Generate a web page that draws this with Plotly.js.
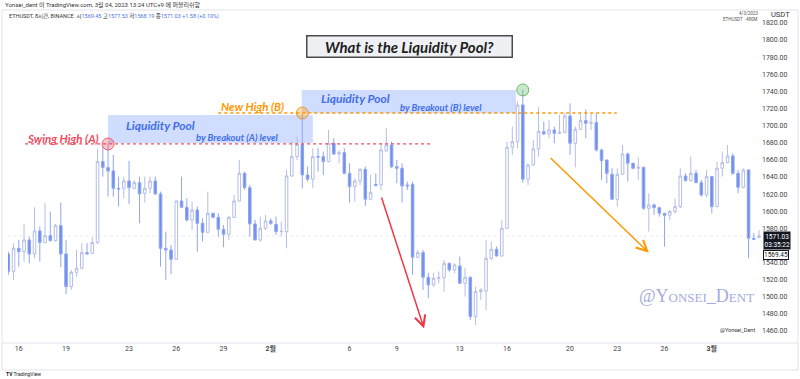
<!DOCTYPE html>
<html><head><meta charset="utf-8">
<script src="https://cdn.plot.ly/plotly-3.0.1.min.js"></script>
<style>html,body{margin:0;padding:0;background:#fff}#chart{width:800px;height:379px}</style>
</head><body><div id="chart"></div>
<script>
// ETHUSDT 8h candles (Jan 15 08:00 UTC onward)
const openP = [1550.0,1529.4,1556.6,1552.7,1566.4,1550.0,1576.9,1563.3,1571.4,1565.6,
1583.1,1550.0,1511.9,1528.6,1533.3,1551.6,1550.8,1563.3,1657.9,1650.9,
1647.0,1626.7,1626.7,1635.3,1626.7,1633.3,1620.9,1626.7,1635.3,1620.1,
1556.6,1554.7,1543.8,1611.9,1604.5,1589.7,1601.4,1585.8,1575.3,1597.5,
1592.8,1578.8,1573.0,1592.8,1611.9,1644.2,1627.5,1585.1,1566.4,1580.0,
1588.6,1584.6,1576.1,1576.1,1641.1,1663.7,1678.1,1642.3,1637.2,1663.7,
1663.7,1657.9,1679.3,1666.8,1668.4,1644.2,1628.7,1635.3,1648.9,1613.9,
1631.4,1630.6,1670.3,1677.3,1652.0,1650.1,1630.6,1631.4,1546.1,1551.6,
1522.8,1513.8,1521.6,1522.4,1539.1,1531.3,1536.0,1515.7,1522.8,1476.8,
1506.0,1506.8,1544.9,1555.5,1547.7,1580.0,1674.6,1681.2,1724.1,1637.3,
1654.0,1672.7,1692.9,1690.2,1694.9,1691.0,1692.1,1711.2,1679.3,1695.6,
1705.8,1702.7,1703.5,1671.5,1659.8,1643.1,1613.9,1643.1,1666.8,1655.9,
1650.1,1651.3,1603.4,1607.3,1604.1,1597.5,1595.2,1599.5,1605.3,1641.1,
1635.7,1644.2,1633.3,1618.9,1640.4,1605.3,1650.1,1656.7,1664.5,1644.2,
1627.9,1648.1,1568.3,1569.45];
const highP = [1552.7,1562.5,1566.4,1584.7,1570.3,1604.5,1582.0,1609.2,1599.5,1585.1,
1610.0,1566.4,1531.3,1554.7,1562.5,1562.5,1569.5,1672.0,1675.0,1680.0,
1665.7,1640.4,1640.4,1658.7,1636.4,1640.4,1640.4,1640.4,1640.4,1622.8,
1576.1,1560.5,1612.5,1640.4,1615.0,1611.2,1605.3,1591.7,1622.8,1598.0,
1597.5,1583.9,1594.4,1618.9,1659.8,1646.2,1630.6,1589.7,1593.6,1595.6,
1591.7,1593.6,1587.8,1648.1,1681.2,1687.1,1714.3,1652.0,1673.5,1673.5,
1669.6,1694.9,1685.1,1671.5,1673.5,1655.9,1638.4,1650.1,1652.0,1642.3,
1644.2,1679.3,1696.8,1681.2,1659.8,1655.9,1634.5,1634.5,1554.7,1554.7,
1528.2,1528.2,1529.4,1543.0,1539.9,1539.1,1546.9,1533.3,1523.5,1511.9,
1509.9,1566.4,1564.4,1558.6,1589.7,1681.2,1698.8,1728.0,1741.6,1655.9,
1683.2,1721.4,1704.6,1706.5,1698.8,1712.4,1714.3,1726.0,1698.8,1714.3,
1719.0,1714.3,1714.3,1673.0,1660.0,1650.1,1650.1,1677.3,1668.4,1656.7,
1662.9,1652.0,1620.9,1609.0,1605.3,1598.0,1601.4,1615.0,1650.1,1644.2,
1663.7,1648.1,1636.4,1648.1,1641.0,1657.9,1669.6,1677.3,1667.6,1648.1,
1650.1,1648.9,1574.2,1577.53];
const lowP = [1525.5,1519.7,1535.2,1541.1,1539.1,1545.0,1541.1,1562.5,1564.4,1564.4,
1534.4,1502.9,1508.0,1523.5,1532.1,1549.0,1550.0,1562.0,1640.4,1617.0,
1617.0,1605.3,1615.0,1608.4,1625.5,1585.8,1610.0,1620.9,1619.0,1535.2,
1519.7,1526.6,1543.0,1604.0,1587.8,1578.0,1552.7,1564.4,1574.2,1591.7,
1570.3,1557.8,1566.4,1592.0,1611.0,1624.8,1570.3,1566.0,1564.4,1578.0,
1583.9,1572.2,1570.3,1556.6,1640.4,1659.8,1626.7,1634.5,1626.7,1646.2,
1642.3,1657.0,1665.7,1655.9,1643.0,1610.0,1611.1,1630.6,1606.1,1613.0,
1628.7,1624.8,1669.6,1650.1,1632.6,1610.0,1624.8,1525.5,1544.9,1508.0,
1498.2,1511.9,1515.7,1506.0,1529.4,1527.4,1515.0,1500.2,1472.9,1467.1,
1496.3,1484.6,1543.0,1547.0,1546.9,1578.8,1665.7,1673.5,1633.4,1630.6,
1652.8,1663.7,1689.0,1685.1,1679.3,1690.0,1691.0,1665.7,1651.3,1694.9,
1685.1,1694.9,1669.6,1636.4,1632.6,1613.0,1605.3,1642.3,1634.5,1649.0,
1636.4,1601.4,1576.1,1595.6,1593.6,1558.6,1589.7,1597.5,1603.4,1634.5,
1634.5,1632.6,1617.0,1616.2,1597.5,1604.5,1640.4,1656.0,1642.3,1620.9,
1626.7,1545.0,1566.0,1568.19];
const closeP = [1529.4,1556.6,1552.7,1566.4,1550.0,1576.9,1563.3,1571.4,1565.6,1583.1,
1550.0,1511.9,1528.6,1533.3,1551.6,1550.0,1563.3,1657.9,1650.9,1647.0,
1626.7,1626.0,1635.3,1627.5,1633.3,1620.1,1626.7,1635.3,1620.1,1556.6,
1554.7,1543.8,1611.9,1604.5,1589.7,1601.4,1585.8,1575.3,1597.5,1592.8,
1578.8,1573.0,1592.8,1611.9,1644.2,1627.5,1585.1,1566.4,1580.0,1588.6,
1585.8,1576.1,1576.5,1641.1,1663.7,1678.1,1642.3,1637.2,1663.7,1663.2,
1657.9,1679.3,1666.8,1668.4,1644.2,1628.7,1635.3,1648.9,1613.9,1621.7,
1630.2,1671.5,1677.3,1652.0,1650.1,1629.5,1629.5,1546.1,1551.6,1522.8,
1513.8,1521.6,1522.4,1539.1,1531.3,1537.2,1515.7,1522.8,1476.8,1506.0,
1508.0,1544.9,1555.5,1547.7,1580.0,1674.6,1681.2,1724.1,1637.3,1654.0,
1672.7,1692.9,1690.2,1694.9,1691.0,1692.1,1711.2,1679.3,1695.6,1705.8,
1702.7,1703.5,1671.5,1659.0,1644.2,1613.9,1643.1,1666.8,1655.9,1650.1,
1651.3,1603.4,1607.3,1604.1,1597.5,1595.2,1599.5,1605.3,1641.1,1635.7,
1644.2,1633.3,1618.9,1640.4,1605.3,1650.1,1656.7,1664.5,1644.2,1627.9,
1648.1,1568.3,1567.1,1571.03];

// 1560.00 is hidden behind the last-price label in the reference
const priceTicks = [1460,1480,1500,1520,1540,1580,1600,1620,1640,1660,1680,1700,1720,1740,1760,1780,1800,1820];
const dayTicks = ['2023-01-16','2023-01-19','2023-01-23','2023-01-26','2023-01-29','2023-02-01','2023-02-06','2023-02-09','2023-02-13','2023-02-16','2023-02-20','2023-02-23','2023-02-26','2023-03-01'];
const dayLabels = ['16','19','23','26','29','<b>2월</b>','6','9','13','16','20','23','26','<b>3월</b>'];

// bar time axis: 8-hour bars starting 2023-01-15 08:00 UTC
const T0 = Date.UTC(2023,0,15,8,0,0), BAR = 8*3600*1000;
function tAt(i){const d=new Date(Math.round(T0+i*BAR));const p=n=>String(n).padStart(2,'0');
  return d.getUTCFullYear()+'-'+p(d.getUTCMonth()+1)+'-'+p(d.getUTCDate())+' '+p(d.getUTCHours())+':'+p(d.getUTCMinutes())+':'+p(d.getUTCSeconds());}
const times = openP.map((_,i)=>tAt(i));

// pixel -> paper helpers (plot area x 8..761, y 10..343)
const PX = x => (x-8)/753, PY = y => (343-y)/333;

const swingA = 1678.5, newB = 1714.7, topC = 1741.6, lastClose = 1571.03;
const blue = '#3f6ee8', red = '#ef4b5d', orange = '#ff9800';
const annFont = {family:'Lato, "Open Sans", sans-serif', weight:'bold', style:'italic'};

const trace = {
  type:'candlestick', x:times, open:openP, high:highP, low:lowP, close:closeP,
  increasing:{line:{color:'#b4bde6',width:1}, fillcolor:'#ffffff'},
  decreasing:{line:{color:'#8fa6f0',width:1}, fillcolor:'#6f8fef'},
  whiskerwidth:0, hoverinfo:'skip', showlegend:false
};

const shapes = [
  {type:'rect',xref:'paper',yref:'paper',x0:PX(2),x1:PX(798),y0:PY(370),y1:PY(10),line:{color:'#e0e3eb',width:1},layer:'below'},
  {type:'line',xref:'paper',yref:'paper',x0:PX(2),x1:PX(798),y0:PY(343),y1:PY(343),line:{color:'#e0e3eb',width:1}},
  // current price line
  {type:'line',xref:'x',yref:'y',x0:tAt(-0.1),x1:tAt(143.4),y0:lastClose,y1:lastClose,line:{color:'rgba(150,155,175,0.22)',width:1,dash:'dot'},layer:'below'},
  // liquidity boxes
  {type:'rect',xref:'x',yref:'y',x0:tAt(19.0),x1:tAt(58.0),y0:1679.7,y1:1712.4,fillcolor:'rgba(41,98,255,0.22)',line:{width:0},layer:'below'},
  {type:'rect',xref:'x',yref:'y',x0:tAt(55.9),x1:tAt(96.7),y0:newB,y1:topC,fillcolor:'rgba(41,98,255,0.22)',line:{width:0},layer:'below'},
  // levels
  {type:'line',xref:'x',yref:'y',x0:tAt(3.2),x1:tAt(80.9),y0:swingA,y1:swingA,line:{color:red,width:1.3,dash:'dot'}},
  {type:'line',xref:'x',yref:'y',x0:tAt(40.0),x1:tAt(115.9),y0:newB,y1:newB,line:{color:orange,width:1.3,dash:'dot'}},
  // circles
  {type:'circle',xref:'x',yref:'y',xsizemode:'pixel',ysizemode:'pixel',xanchor:tAt(19),yanchor:swingA,x0:-6,x1:6,y0:-6,y1:6,fillcolor:'rgba(242,54,69,0.28)',line:{color:'rgba(242,54,69,0.75)',width:1}},
  {type:'circle',xref:'x',yref:'y',xsizemode:'pixel',ysizemode:'pixel',xanchor:tAt(56),yanchor:newB,x0:-6,x1:6,y0:-6,y1:6,fillcolor:'rgba(255,152,0,0.35)',line:{color:'rgba(230,140,20,0.8)',width:1}},
  {type:'circle',xref:'x',yref:'y',xsizemode:'pixel',ysizemode:'pixel',xanchor:tAt(98),yanchor:topC,x0:-6,x1:6,y0:-6,y1:6,fillcolor:'rgba(76,175,80,0.3)',line:{color:'rgba(76,175,80,0.8)',width:1}}
];

const annotations = [
  // header
  {xref:'paper',yref:'paper',x:PX(3),y:PY(5),xanchor:'left',yanchor:'middle',showarrow:false,
   text:'Yonsei_dent 이 TradingView.com, 3월 04, 2023 13:24 UTC+9 에 퍼블리쉬함',font:{family:'Roboto, "Noto Sans CJK KR"',size:6,color:'#333'}},
  {xref:'paper',yref:'paper',x:PX(7),y:PY(15.5),xanchor:'left',yanchor:'middle',showarrow:false,
   text:'ETHUSDT, 8시간, BINANCE  시<span style="color:#4a74e6">1569.45</span> 고<span style="color:#4a74e6">1577.53</span> 저<span style="color:#4a74e6">1568.19</span> 종<span style="color:#4a74e6">1571.03</span> <span style="color:#4a74e6">+1.58 (+0.10%)</span>',
   font:{family:'Roboto, "Noto Sans CJK KR"',size:5.5,color:'#333'}},
  {xref:'paper',yref:'paper',x:PX(760),y:PY(14),xanchor:'right',yanchor:'middle',showarrow:false,text:'4/3/2023',font:{family:'Roboto',size:4.5,color:'#555'}},
  {xref:'paper',yref:'paper',x:PX(760),y:PY(20),xanchor:'right',yanchor:'middle',showarrow:false,text:'ETHUSDT · 480M',font:{family:'Roboto',size:4.5,color:'#555'}},
  {xref:'paper',yref:'paper',x:PX(769),y:PY(15),xanchor:'left',yanchor:'middle',showarrow:false,text:'USDT',font:{family:'Roboto',size:7.5,color:'#333'}},
  // title box
  {xref:'paper',yref:'paper',x:PX(409.7),y:PY(46),xanchor:'center',yanchor:'middle',showarrow:false,
   text:'What is the Liquidity Pool?',font:Object.assign({},annFont,{size:15,color:'#1e1e1e'}),
   bgcolor:'#eef0f4',bordercolor:'#4a4a4a',borderwidth:1.5,borderpad:1,width:202,height:18},
  // labels
  {xref:'paper',yref:'paper',x:PX(101),y:PY(138),xanchor:'right',yanchor:'middle',showarrow:false,text:'Swing High (A)',font:Object.assign({},annFont,{size:11.5,color:red})},
  {xref:'paper',yref:'paper',x:PX(124),y:PY(125),xanchor:'left',yanchor:'middle',showarrow:false,text:'Liquidity Pool',font:Object.assign({},annFont,{size:12,color:blue})},
  {xref:'paper',yref:'paper',x:PX(194),y:PY(137),xanchor:'left',yanchor:'middle',showarrow:false,text:'by Breakout (A) level',font:Object.assign({},annFont,{size:9.5,color:blue})},
  {xref:'paper',yref:'paper',x:PX(219),y:PY(106),xanchor:'left',yanchor:'middle',showarrow:false,text:'New High (B)',font:Object.assign({},annFont,{size:11.5,color:orange})},
  {xref:'paper',yref:'paper',x:PX(319),y:PY(99),xanchor:'left',yanchor:'middle',showarrow:false,text:'Liquidity Pool',font:Object.assign({},annFont,{size:12,color:blue})},
  {xref:'paper',yref:'paper',x:PX(398),y:PY(107),xanchor:'left',yanchor:'middle',showarrow:false,text:'by Breakout (B) level',font:Object.assign({},annFont,{size:9.5,color:blue})},
  // arrows
  {xref:'x',yref:'y',axref:'x',ayref:'y',x:tAt(79.2),y:1463.0,ax:tAt(71.0),ay:1617.8,text:'',showarrow:true,arrowhead:5,arrowsize:1.4,arrowwidth:1.5,arrowcolor:'#f23645',standoff:0,startstandoff:0},
  {xref:'x',yref:'y',axref:'x',ayref:'y',x:tAt(122.0),y:1551.5,ax:tAt(103.0),ay:1663.7,text:'',showarrow:true,arrowhead:5,arrowsize:1.4,arrowwidth:1.5,arrowcolor:orange,standoff:0,startstandoff:0},
  // watermarks
  {xref:'paper',yref:'paper',x:PX(696),y:PY(296),xanchor:'center',yanchor:'middle',showarrow:false,text:'@Yonsei_Dent',font:{family:'"Liberation Serif", serif',size:18,color:'#a3acde',variant:'small-caps'}},
  {xref:'paper',yref:'paper',x:PX(757),y:PY(330),xanchor:'right',yanchor:'middle',showarrow:false,text:'@Yonsei_Dent',font:{family:'Roboto',size:5.5,color:'#333'}},
  // price scale labels
  {xref:'paper',yref:'y',x:PX(763),y:lastClose,xanchor:'left',yanchor:'middle',yshift:-4.6,showarrow:false,text:'1571.03<br>03:35:22',
   font:{family:'Roboto',size:6.5,color:'#ffffff'},bgcolor:'#131722',borderpad:0.5,align:'center'},
  {xref:'paper',yref:'y',x:PX(763),y:1549.0,xanchor:'left',yanchor:'middle',showarrow:false,text:'1569.45',
   font:{family:'Roboto',size:6.5,color:'#131722'},bgcolor:'#ffffff',bordercolor:'#131722',borderwidth:1,borderpad:0},
  // footer
  {xref:'paper',yref:'paper',x:PX(4),y:PY(374),xanchor:'left',yanchor:'middle',showarrow:false,text:'<b>TV</b> TradingView',font:{family:'Roboto',size:5,color:'#131722'}}
];

const layout = {
  width:800,height:379,margin:{l:8,r:39,t:10,b:36},
  paper_bgcolor:'#ffffff',plot_bgcolor:'#ffffff',showlegend:false,
  xaxis:{type:'date',range:[tAt(-0.057),tAt(143.37)],rangeslider:{visible:false},showgrid:false,zeroline:false,
    tickvals:dayTicks,ticktext:dayLabels,ticks:'',tickfont:{family:'Roboto, "Noto Sans CJK KR"',size:7,color:'#444'},
    showline:false,fixedrange:true},
  yaxis:{side:'right',range:[1446.0,1835.0],showgrid:false,zeroline:false,tickvals:priceTicks,
    ticktext:priceTicks.map(v=>v.toFixed(2)),ticks:'',tickfont:{family:'Roboto',size:7,color:'#444'},showline:false,fixedrange:true},
  shapes:shapes,annotations:annotations
};

Plotly.newPlot('chart',[trace],layout,{staticPlot:true,displayModeBar:false});
</script></body></html>
